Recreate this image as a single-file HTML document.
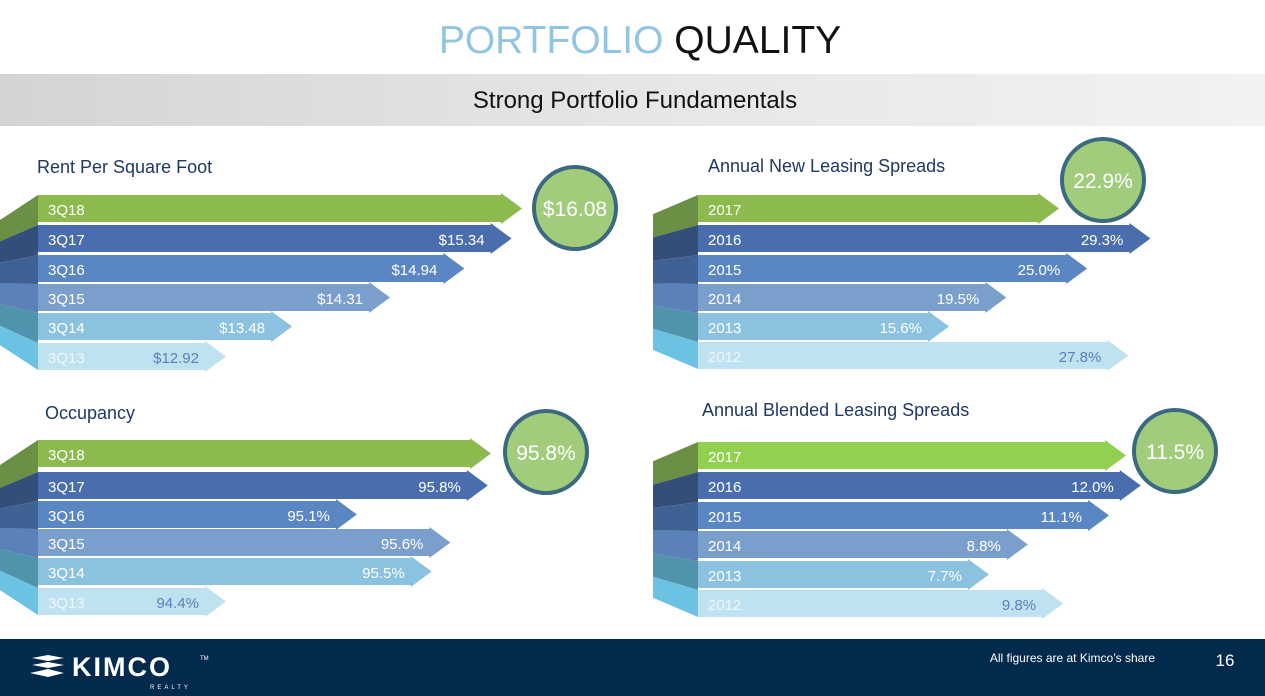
<!DOCTYPE html>
<html><head><meta charset="utf-8">
<style>
body{margin:0;width:1265px;height:696px;overflow:hidden;background:#fff;font-family:"Liberation Sans",sans-serif;position:relative}
svg{position:absolute;left:0;top:0}
</style></head>
<body>
<svg id="s" width="1265" height="696">
<defs>
<linearGradient id="band" x1="0" x2="1"><stop offset="0" stop-color="#d4d4d4"/><stop offset="0.5" stop-color="#e6e6e6"/><stop offset="1" stop-color="#f2f2f2"/></linearGradient>
</defs>
<text x="640" y="53" text-anchor="middle" font-size="39"><tspan fill="#92c5e2">PORTFOLIO</tspan><tspan fill="#111"> QUALITY</tspan></text>
<rect x="0" y="74" width="1265" height="52" fill="url(#band)"/>
<text x="635" y="108" text-anchor="middle" font-size="24" fill="#111">Strong Portfolio Fundamentals</text>
<rect x="0" y="639" width="1265" height="57" fill="#022a4c"/>
<g fill="#fff">
<path d="M32 658 l16 -3 l16 3 l-16 3z M32 665 l16 -3 l16 3 l-16 3z M30 673 l18 -4 l16 4 l-16 4z"/>
<text x="72" y="676" font-size="27" font-weight="bold" letter-spacing="2">KIMCO</text>
<text x="200" y="660" font-size="6">TM</text>
<text x="150" y="689" font-size="6" letter-spacing="3">REALTY</text>
</g>
<text x="1155" y="662" text-anchor="end" font-size="12" fill="#fff">All figures are at Kimco’s share</text>
<text x="1225" y="666" text-anchor="middle" font-size="17" fill="#fff">16</text>
</svg>
<script>
const rentLabels=["3Q18","3Q17","3Q16","3Q15","3Q14","3Q13"];
const rentValues=[16.08,15.34,14.94,14.31,13.48,12.92];
const occLabels=["3Q18","3Q17","3Q16","3Q15","3Q14","3Q13"];
const occValues=[95.8,95.8,95.1,95.6,95.5,94.4];
const newLabels=["2017","2016","2015","2014","2013","2012"];
const newValues=[22.9,29.3,25.0,19.5,15.6,27.8];
const blendLabels=["2017","2016","2015","2014","2013","2012"];
const blendValues=[11.5,12.0,11.1,8.8,7.7,9.8];
const rentText=["$16.08","$15.34","$14.94","$14.31","$13.48","$12.92"];
const occText=["95.8%","95.8%","95.1%","95.6%","95.5%","94.4%"];
const newText=["22.9%","29.3%","25.0%","19.5%","15.6%","27.8%"];
const blendText=["11.5%","12.0%","11.1%","8.8%","7.7%","9.8%"];

const NS="http://www.w3.org/2000/svg";
const svg=document.getElementById('s');
function mk(tag,attrs,parent){const e=document.createElementNS(NS,tag);for(const k in attrs)e.setAttribute(k,attrs[k]);(parent||svg).appendChild(e);return e;}
const fills=["#8dba4f","#4a6ead","#5a87c3","#7b9fcd","#8bc2e0","#bfe2f1"];
const bevel=["#6a8f45","#344e7a","#3f6193","#5b82b8","#4f93ad","#6cc2e2"];
const blendFills=["#92d050","#4a6ead","#5a87c3","#7b9fcd","#8bc2e0","#bfe2f1"];

function panel(p){
  const g=mk('g',{});
  
  
  const t=mk('text',{x:p.tx,y:p.ty,'font-size':18,fill:'#1f3864'},g);
  
  
  t.textContent=p.title;
  const xs=v=>p.x0v+(v-p.v0)*p.k;
  const h=27;
  const mid=(p.tops[0]+p.tops[5]+h)/2;
  const ly=y=>mid+(y-mid)*p.sq;
  for(let i=0;i<p.labels.length;i++){
    const top=p.tops[i],bot=(i<5?p.tops[i+1]:top+h);
    const bv=mk('polygon',{points:`${p.bx},${top} ${p.bx},${bot} ${p.bx-p.bw},${ly(bot)} ${p.bx-p.bw},${ly(top)}`,fill:bevel[i]},g);
    
    
  }
  for(let i=p.labels.length-1;i>=0;i--){
    const top=p.tops[i];
    const end=i===0?p.hiEnd:xs(p.values[i]);
    const b=mk('polygon',{points:`${p.bx},${top} ${end},${top} ${end},${top-2} ${end+21},${top+h/2} ${end},${top+h+2} ${end},${top+h} ${p.bx},${top+h}`,fill:(p.fills||fills)[i]},g);
    
    
    const l=mk('text',{x:p.bx+10,y:top+20,'font-size':15,fill:i===5?'#eef7fb':'#fff'},g);
    
    
    l.textContent=p.labels[i];
    if(i>0){
      const v=mk('text',{x:end-6,y:top+20,'font-size':15,'text-anchor':'end',fill:i===5?'#5b7fb9':'#fff'},g);
      
      
      v.textContent=p.text[i];
    }
  }
  const c=mk('circle',{cx:p.cx,cy:p.cy,r:41,fill:'#a0cc7c',stroke:'#3b6a80','stroke-width':4},g);
  
  
  const ct=mk('text',{x:p.cx,y:p.cy+8,'font-size':21,'text-anchor':'middle',fill:'#fff'},g);
  
  
  ct.textContent=p.text[0];
}
panel({name:'rent-panel',title:'Rent Per Square Foot',tx:37,ty:173,labels:rentLabels,values:rentValues,text:rentText,bx:38,bw:40,sq:0.7,tops:[195,225,255,284,313,343],v0:12.92,x0v:205,k:118,hiEnd:501,cx:575,cy:208});
panel({name:'occupancy-panel',title:'Occupancy',tx:45,ty:419,labels:occLabels,values:occValues,text:occText,bx:38,bw:40,sq:0.7,tops:[440,472,501,529,558,588],v0:94.4,x0v:205,k:187,hiEnd:470,cx:546,cy:452});
panel({name:'new-leasing-panel',title:'Annual New Leasing Spreads',tx:708,ty:172,labels:newLabels,values:newValues,text:newText,bx:698,bw:45,sq:0.78,tops:[195,225,255,284,313,342],v0:15.6,x0v:928,k:14.7,hiEnd:1038,cx:1103,cy:180});
panel({name:'blended-leasing-panel',title:'Annual Blended Leasing Spreads',tx:702,ty:416,labels:blendLabels,values:blendValues,text:blendText,bx:698,bw:45,sq:0.78,tops:[442,472,502,531,561,590],v0:7.7,x0v:968,k:35.3,hiEnd:1105,cx:1175,cy:451,fills:blendFills});
</script>
</body></html>
